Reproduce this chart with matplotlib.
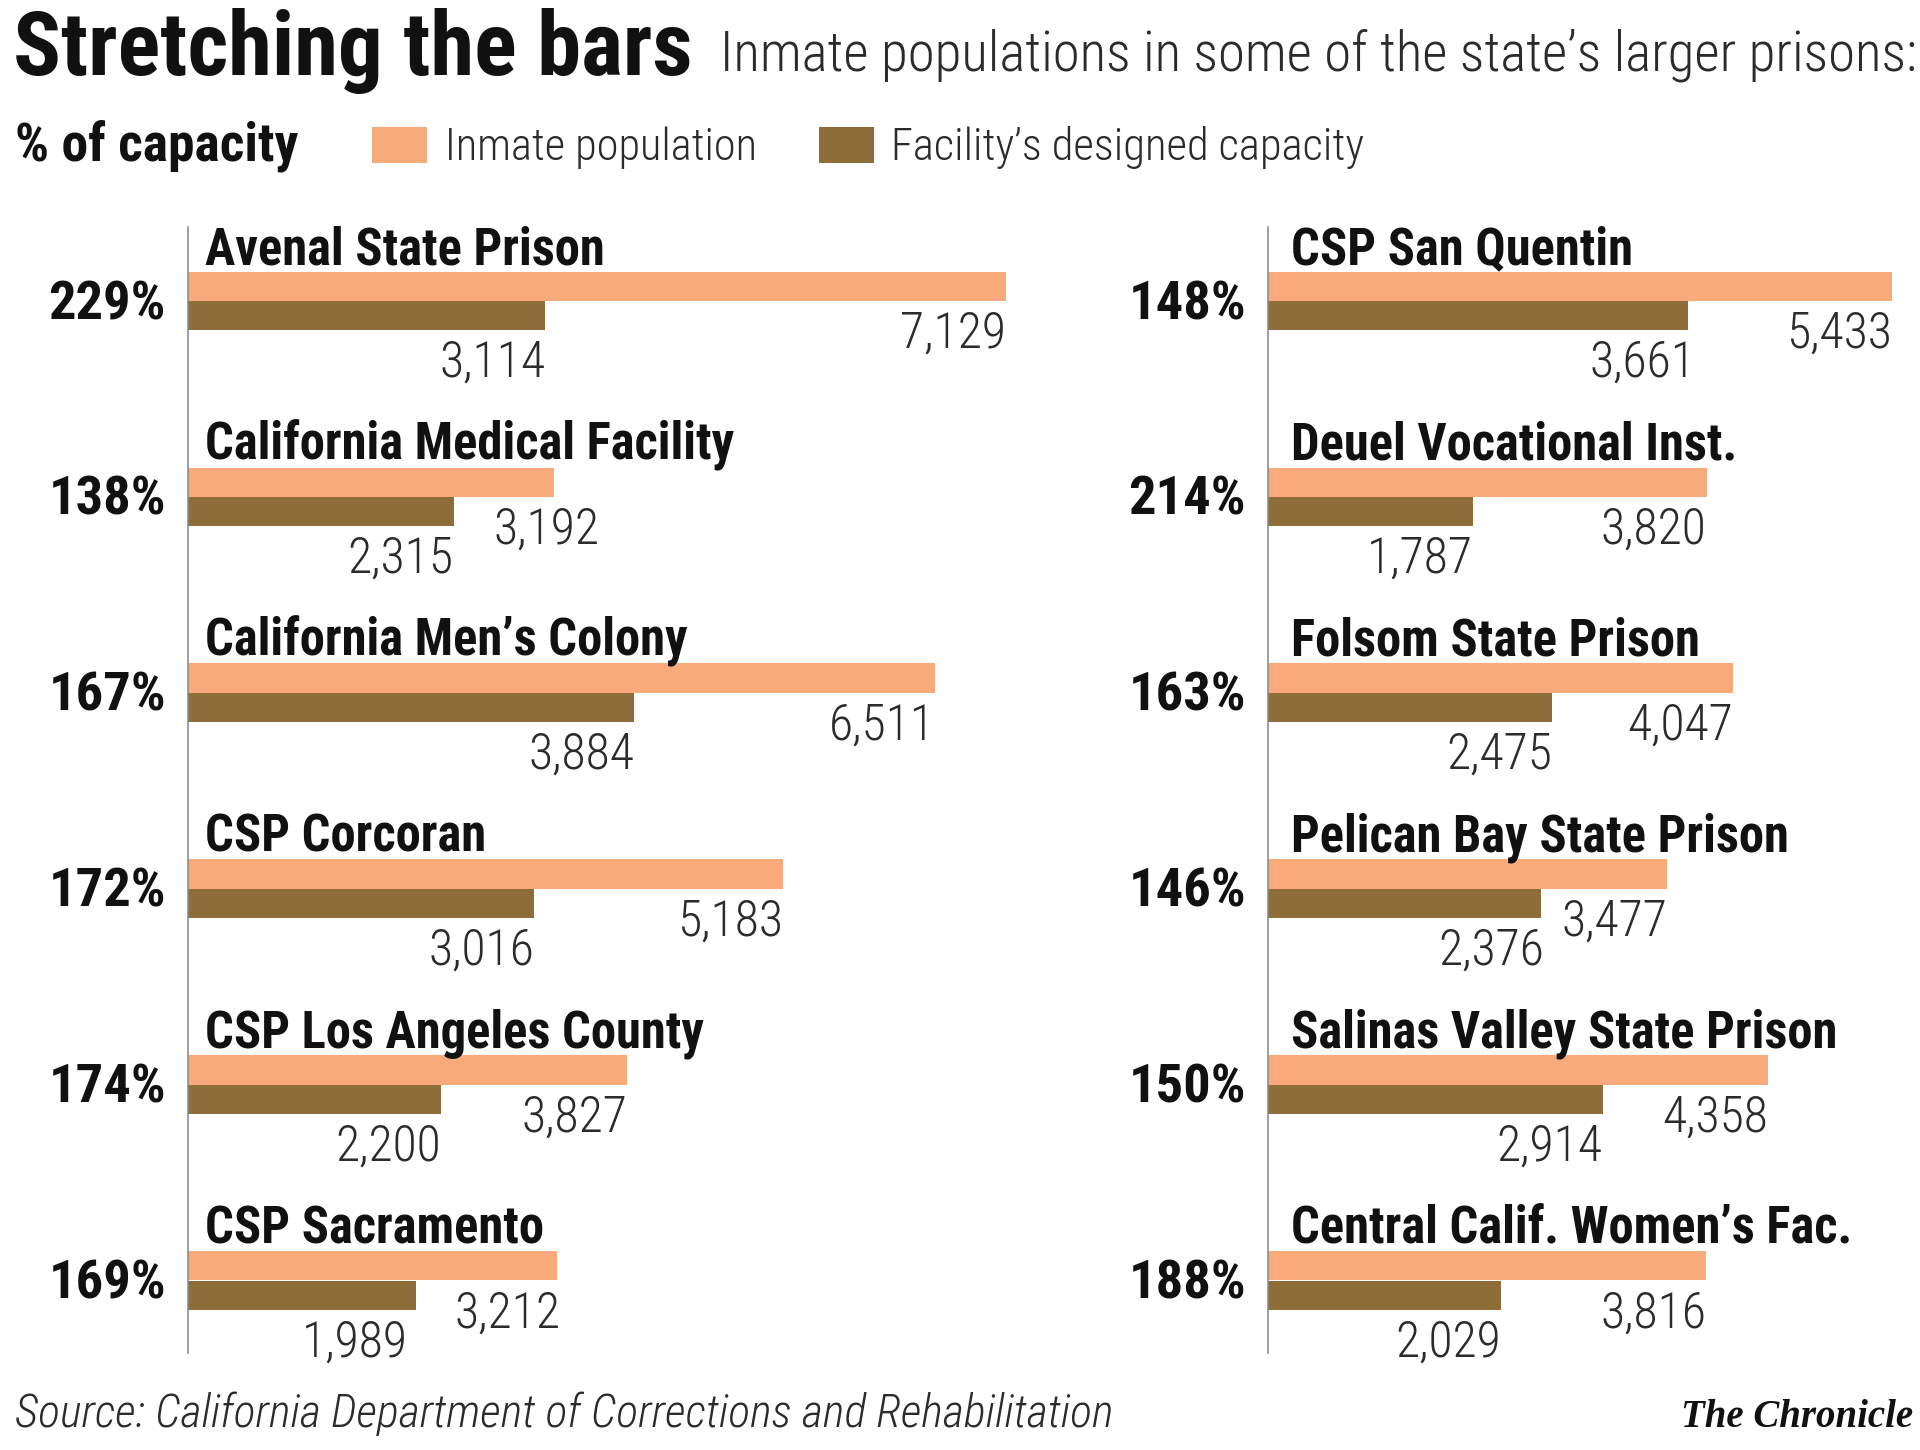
import numpy as np
import matplotlib
matplotlib.use('Agg')
import matplotlib.pyplot as plt
from matplotlib import font_manager as fm
from matplotlib.patches import Rectangle

# ---------------- data ----------------
left_names = ["Avenal State Prison", "California Medical Facility", "California Men\u2019s Colony",
              "CSP Corcoran", "CSP Los Angeles County", "CSP Sacramento"]
left_pop = [7129, 3192, 6511, 5183, 3827, 3212]
left_cap = [3114, 2315, 3884, 3016, 2200, 1989]
left_pct = ["229%", "138%", "167%", "172%", "174%", "169%"]

right_names = ["CSP San Quentin", "Deuel Vocational Inst.", "Folsom State Prison",
               "Pelican Bay State Prison", "Salinas Valley State Prison", "Central Calif. Women\u2019s Fac."]
right_pop = [5433, 3820, 4047, 3477, 4358, 3816]
right_cap = [3661, 1787, 2475, 2376, 2914, 2029]
right_pct = ["148%", "214%", "163%", "146%", "150%", "188%"]

series_labels = ["Inmate population", "Facility\u2019s designed capacity"]

# ---------------- style ----------------
ORANGE = '#F8AA7B'
BROWN = '#8F6D38'
INK = '#111111'
GREY = '#2b2b2b'

avail = {f.name for f in fm.fontManager.ttflist}
def pick(cands, default='DejaVu Sans'):
    for c in cands:
        if c in avail:
            return c
    return default

SANS = pick(['Roboto Condensed', 'Open Sans Condensed', 'Liberation Sans Narrow',
             'Roboto', 'Liberation Sans'])
SERIF = pick(['Liberation Serif', 'DejaVu Serif'])

DPI = 72
W, H = 1920, 1450
fig = plt.figure(figsize=(W / DPI, H / DPI), dpi=DPI)
fig.patch.set_facecolor('white')
R = fig.canvas.get_renderer()

def fx(x):
    return x / W

def fy(y):
    return 1 - y / H

def fit(texts, ref, target):
    w = ref.get_window_extent(R).width
    f = target / w
    for t in texts:
        t.set_fontsize(t.get_fontsize() * f)

def sans(weight='normal', style='normal'):
    return dict(family=[SANS, 'DejaVu Sans'], fontweight=weight, fontstyle=style,
                fontstretch='condensed')

# ---------------- header ----------------
t_title = fig.text(fx(13), fy(75), "Stretching the bars", color=INK, fontsize=80,
                   ha='left', va='baseline', **sans('black'))
fit([t_title], t_title, 679)
t_sub = fig.text(fx(720), fy(71), "Inmate populations in some of the state\u2019s larger prisons:",
                 color=GREY, fontsize=56, ha='left', va='baseline', **sans('light'))
fit([t_sub], t_sub, 1196)

t_cap = fig.text(fx(15), fy(160), "% of capacity", color=INK, fontsize=40,
                 ha='left', va='baseline', **sans('black'))
fit([t_cap], t_cap, 283)

fig.patches.append(Rectangle((fx(372), fy(163)), 55 / W, 36 / H, transform=fig.transFigure,
                             facecolor=ORANGE, edgecolor='none'))
fig.patches.append(Rectangle((fx(819), fy(163)), 55 / W, 36 / H, transform=fig.transFigure,
                             facecolor=BROWN, edgecolor='none'))
t_l1 = fig.text(fx(445), fy(160), series_labels[0], color=GREY, fontsize=40,
                ha='left', va='baseline', **sans('light'))
t_l2 = fig.text(fx(891), fy(160), series_labels[1], color=GREY, fontsize=40,
                ha='left', va='baseline', **sans('light'))
fit([t_l1], t_l1, 312)
fit([t_l2], t_l2, 473)

# ---------------- panels ----------------
K = 0.1148          # pixels per inmate
TOP, BOT = 227, 1353
PITCH = 195.9
B0 = 301
BAR_H = 29.4 / PITCH

name_texts, pct_texts, val_texts = [], [], []

def make_panel(x0, width_px, names, pop, cap, pct, name_dx, nudges):
    ax = fig.add_axes([fx(x0), fy(BOT), width_px / W, (BOT - TOP) / H])
    ax.set_facecolor('none')
    ax.set_xlim(0, width_px / K)
    ytop = -(B0 - TOP) / PITCH
    ax.set_ylim(ytop + (BOT - TOP) / PITCH, ytop)
    rows = np.arange(len(names))
    ax.barh(rows - BAR_H / 2, pop, height=BAR_H, color=ORANGE, linewidth=0)
    ax.barh(rows + BAR_H / 2, cap, height=BAR_H, color=BROWN, linewidth=0)
    for s in ['top', 'right', 'bottom']:
        ax.spines[s].set_visible(False)
    ax.spines['left'].set_color('#8a8a8a')
    ax.spines['left'].set_linewidth(1.6)
    ax.set_xticks([])
    ax.set_yticks([])
    for i in rows:
        t = ax.annotate(names[i], (0, i), xytext=(name_dx, 37), textcoords='offset pixels',
                        ha='left', va='baseline', color=INK, fontsize=36,
                        annotation_clip=False, **sans('bold'))
        name_texts.append(t)
        t = ax.annotate(pct[i], (0, i), xytext=(-22, -18), textcoords='offset pixels',
                        ha='right', va='baseline', color=INK, fontsize=32,
                        annotation_clip=False, **sans('black'))
        pct_texts.append(t)
        dp, dc = nudges.get(i, (0, 0))
        t = ax.annotate(f"{pop[i]:,}", (pop[i], i), xytext=(dp, -47), textcoords='offset pixels',
                        ha='right', va='baseline', color=GREY, fontsize=36,
                        annotation_clip=False, **sans('light'))
        val_texts.append(t)
        t = ax.annotate(f"{cap[i]:,}", (cap[i], i), xytext=(dc, -76), textcoords='offset pixels',
                        ha='right', va='baseline', color=GREY, fontsize=36,
                        annotation_clip=False, **sans('light'))
        val_texts.append(t)
    return ax

axL = make_panel(188, 1050, left_names, left_pop, left_cap, left_pct, 17,
                 {1: (45, 0), 5: (4, -8)})
axR = make_panel(1268, 640, right_names, right_pop, right_cap, right_pct, 23,
                 {0: (0, 7), 3: (0, 3)})

# sizes fitted to reference widths
fit(name_texts, name_texts[11], 561)
fit(pct_texts, pct_texts[0], 117)
fit(val_texts, val_texts[0], 106)

# ---------------- footer ----------------
t_src = fig.text(fx(15), fy(1427), "Source: California Department of Corrections and Rehabilitation",
                 color=GREY, fontsize=40, ha='left', va='baseline', **sans('light', 'italic'))
fit([t_src], t_src, 1096)
t_chr = fig.text(fx(1913), fy(1427), "The Chronicle", color=INK, fontsize=40,
                 ha='right', va='baseline', family=[SERIF, 'DejaVu Serif'],
                 fontweight='bold', fontstyle='italic')
fit([t_chr], t_chr, 232)

fig.savefig('out.png', dpi=DPI, facecolor='white')
